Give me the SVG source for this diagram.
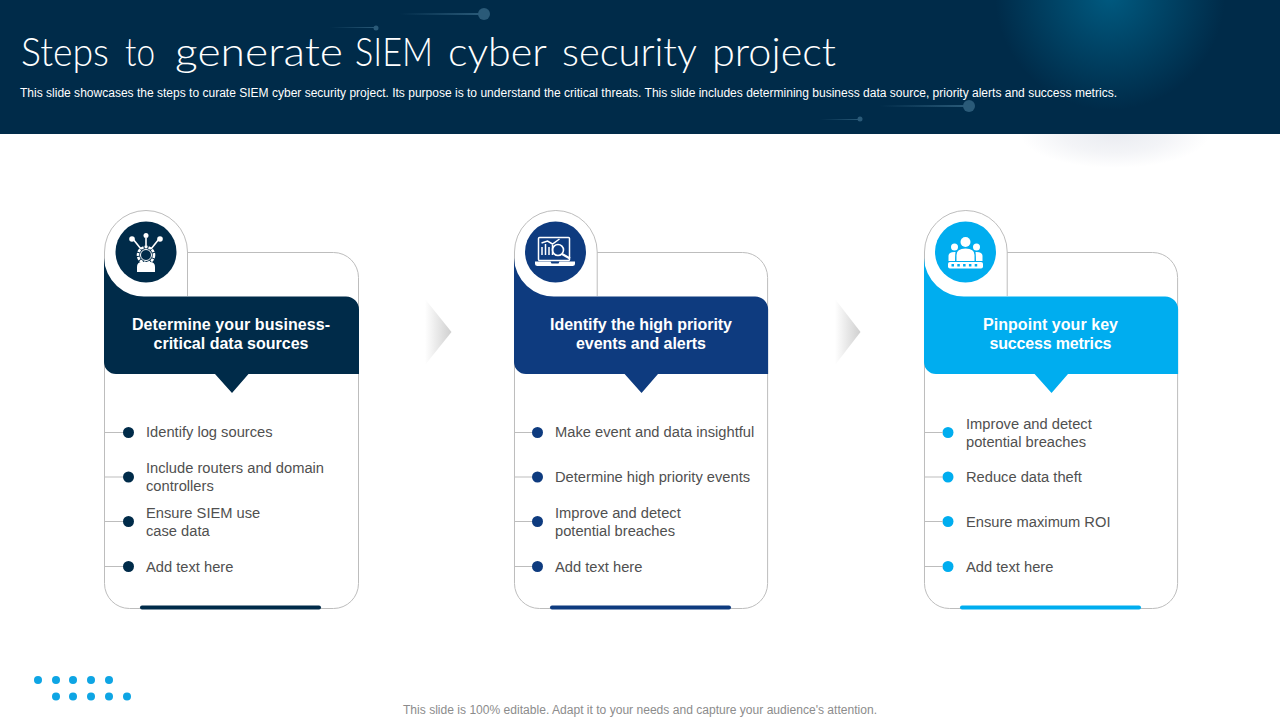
<svg xmlns="http://www.w3.org/2000/svg" xmlns:xlink="http://www.w3.org/1999/xlink" width="1280" height="720" viewBox="0 0 1280 720">
<style>
text{font-family:"Liberation Sans",Arial,sans-serif}
.title{font-family:"Lato","Liberation Sans",sans-serif;font-weight:300;font-size:40px;fill:#fff}
.sub{font-size:12px;fill:#fff}
.head{font-size:16px;font-weight:700;fill:#fff;text-anchor:middle}
.item{font-size:14.7px;fill:#505050}
.foot{font-size:12px;fill:#8c8c8c;text-anchor:middle}
.outline{fill:#fff;stroke:#bdbdbd;stroke-width:1}
.tick{stroke:#bdbdbd;stroke-width:1;fill:none}
.dot{fill:#0ea5e4}
.c1{fill:#002b49}.c2{fill:#0e3b7f}.c3{fill:#00adef}
.w{fill:#fff}.ws{stroke:#fff;fill:none}
</style>
<defs>
<radialGradient id="glow" cx="1110" cy="-5" r="115" gradientUnits="userSpaceOnUse"><stop offset="0" stop-color="#005a80"/><stop offset="1" stop-color="#005a80" stop-opacity="0"/></radialGradient>
<radialGradient id="shadow"><stop offset="0" stop-color="#eaecf1"/><stop offset=".55" stop-color="#f3f4f7"/><stop offset="1" stop-color="#fff"/></radialGradient>
<linearGradient id="chev" x1="0" x2="1" y1="0" y2="0"><stop offset="0" stop-color="#fff"/><stop offset="1" stop-color="#cfcfcf"/></linearGradient>
<linearGradient id="fade" x1="0" x2="1" y1="0" y2="0"><stop offset="0" stop-color="#2a5a78" stop-opacity="0"/><stop offset="1" stop-color="#2a5a78"/></linearGradient>
<path id="frame" class="outline" d="M187.500,252.500H333.500A25,25 0 0 1 358.500,277.500V583.500A25,25 0 0 1 333.500,608.500H129.500A25,25 0 0 1 104.500,583.500V252A41.500,41.500 0 0 1 187.500,252V296"/>
<path id="banner" d="M104,258A40,40 0 0 0 146,296.500H346A13,13 0 0 1 359,309.500V374H248.500L232,393L215,374H116A12,12 0 0 1 104,362Z"/>
</defs>
<rect id="background" width="1280" height="720" fill="#fff"/>
<g id="header">
<ellipse cx="1115" cy="134" rx="95" ry="34" fill="url(#shadow)"/>
<rect width="1280" height="134" fill="#002b49"/>
<rect x="960" width="300" height="134" fill="url(#glow)"/>
<rect x="400" y="13" width="80" height="2" fill="url(#fade)"/><circle cx="484" cy="14" r="6" fill="#2a5a78"/>
<rect x="330" y="27" width="46" height="1" fill="url(#fade)"/><circle cx="376" cy="28" r="2.500" fill="#2a5a78"/>
<rect x="880" y="105" width="86" height="2" fill="url(#fade)"/><circle cx="969" cy="106" r="6" fill="#2a5a78"/>
<rect x="820" y="119" width="40" height="1" fill="url(#fade)"/><circle cx="860" cy="119" r="2.500" fill="#2a5a78"/>
<text class="title" y="66"><tspan x="21" textLength="88" lengthAdjust="spacingAndGlyphs">Steps</tspan> <tspan x="125" textLength="30" lengthAdjust="spacingAndGlyphs">to</tspan> <tspan x="175" textLength="168" lengthAdjust="spacingAndGlyphs">generate</tspan> <tspan x="355" textLength="78" lengthAdjust="spacingAndGlyphs">SIEM</tspan> <tspan x="448" textLength="98" lengthAdjust="spacingAndGlyphs">cyber</tspan> <tspan x="562" textLength="134" lengthAdjust="spacingAndGlyphs">security</tspan> <tspan x="712" textLength="124" lengthAdjust="spacingAndGlyphs">project</tspan></text>
<text class="sub" x="20" y="97" textLength="1097" lengthAdjust="spacingAndGlyphs">This slide showcases the steps to curate SIEM cyber security project. Its purpose is to understand the critical threats. This slide includes determining business data source, priority alerts and success metrics.</text>
</g>
<g id="chevrons">
<polygon points="425,299 451.500,332 425,365" fill="url(#chev)"/>
<polygon points="835,299 860.500,332 835,365" fill="url(#chev)"/>
</g>
<g id="node-1">
<use xlink:href="#frame" href="#frame"/>
<use xlink:href="#banner" href="#banner" class="c1"/>
<circle class="c1" cx="146" cy="252" r="30.500"/>
<g id="icon-1">
<path class="ws" stroke-width="1.600" d="M146,238V247M133,239L141,249M159,239L151,249"/>
<circle class="w" cx="146" cy="235.500" r="2.500"/><circle class="w" cx="132" cy="239" r="2.800"/><circle class="w" cx="160" cy="239" r="2.800"/>
<circle class="ws" cx="146" cy="255" r="8" stroke-width="2.600" stroke-dasharray="3 1"/>
<circle cx="146" cy="255" r="5.500" fill="#002b49" stroke="#fff" stroke-width="1"/>
<path class="w" d="M137,272V267Q137,262 142,262H150Q155,262 155,267V272Z"/>
</g>
<text class="head" x="231" y="330" textLength="198">Determine your business-</text>
<text class="head" x="231" y="349" textLength="155">critical data sources</text>
<circle class="c1" cx="128.500" cy="432.500" r="5.500"/><circle class="c1" cx="128.500" cy="477" r="5.500"/><circle class="c1" cx="128.500" cy="521.500" r="5.500"/><circle class="c1" cx="128.500" cy="566.500" r="5.500"/>
<text class="item" x="146" y="437">Identify log sources</text>
<text class="item" x="146" y="473">Include routers and domain</text>
<text class="item" x="146" y="491">controllers</text>
<text class="item" x="146" y="518">Ensure SIEM use</text>
<text class="item" x="146" y="536">case data</text>
<text class="item" x="146" y="572">Add text here</text>
<rect class="c1" x="140" y="605.500" width="181" height="4" rx="2"/>
</g>
<g id="node-2" transform="translate(410 0)">
<use xlink:href="#frame" href="#frame" transform="translate(104 0) scale(.9965 1) translate(-104 0)"/>
<use xlink:href="#banner" href="#banner" class="c2" transform="translate(104 0) scale(.9965 1) translate(-104 0)"/>
<circle class="c2" cx="145.500" cy="252" r="30.500"/>
<g id="icon-2" transform="translate(-.5 0)">
<rect x="129" y="237.500" width="31" height="23" rx="1" fill="none" stroke="#fff" stroke-width="1.500"/>
<path class="w" d="M125.500,261.500H141L142,263.500H149L150,261.500H165.500V264Q165.500,266 163,266H128Q125.500,266 125.500,264Z"/>
<path class="ws" stroke-width="1.500" d="M132.500,255V247M136,255V244M139.500,255V247M143,255V245M132,243L138,241L143,244L150,239"/>
<circle class="ws" cx="148.500" cy="250" r="5.500" stroke-width="1.600"/>
<path class="ws" stroke-width="2.200" d="M152.500,254L160.500,258.500"/>
</g>
<text class="head" x="231" y="330" textLength="182">Identify the high priority</text>
<text class="head" x="231" y="349" textLength="130">events and alerts</text>
<circle class="c2" cx="127.500" cy="432.500" r="5.500"/><circle class="c2" cx="127.500" cy="477" r="5.500"/><circle class="c2" cx="127.500" cy="521.500" r="5.500"/><circle class="c2" cx="127.500" cy="566.500" r="5.500"/>
<text class="item" x="145" y="437">Make event and data insightful</text>
<text class="item" x="145" y="482">Determine high priority events</text>
<text class="item" x="145" y="518">Improve and detect</text>
<text class="item" x="145" y="536">potential breaches</text>
<text class="item" x="145" y="572">Add text here</text>
<rect class="c2" x="140" y="605.500" width="181" height="4" rx="2"/>
</g>
<g id="node-3" transform="translate(820 0)">
<use xlink:href="#frame" href="#frame" transform="translate(104 0) scale(.9965 1) translate(-104 0)"/>
<use xlink:href="#banner" href="#banner" class="c3" transform="translate(104 0) scale(.9965 1) translate(-104 0)"/>
<circle class="c3" cx="145.500" cy="252" r="30.500"/>
<g id="icon-3" transform="translate(-.5 0)">
<circle class="w" cx="146" cy="242" r="5"/><path class="w" d="M137,261V255Q137,248.500 146,248.500Q155,248.500 155,255V261Z"/>
<circle class="w" cx="135" cy="247" r="3.500"/><path class="w" d="M129,261V256Q129,252 135,252L136,252Q135.500,256 135.500,261Z"/>
<circle class="w" cx="157" cy="247" r="3.500"/><path class="w" d="M163,261V256Q163,252 157,252L156,252Q156.500,256 156.500,261Z"/>
<rect class="w" x="128.500" y="262" width="35" height="6.500" rx="2"/>
<path stroke="#00adef" stroke-width="2.500" stroke-dasharray="2.500 3.300" d="M132,265.300H161"/>
</g>
<text class="head" x="230.500" y="330" textLength="135">Pinpoint your key</text>
<text class="head" x="230.500" y="349" textLength="122">success metrics</text>
<circle class="c3" cx="128" cy="432.500" r="5.500"/><circle class="c3" cx="128" cy="477" r="5.500"/><circle class="c3" cx="128" cy="521.500" r="5.500"/><circle class="c3" cx="128" cy="566.500" r="5.500"/>
<text class="item" x="146" y="429">Improve and detect</text>
<text class="item" x="146" y="447">potential breaches</text>
<text class="item" x="146" y="482">Reduce data theft</text>
<text class="item" x="146" y="527">Ensure maximum ROI</text>
<text class="item" x="146" y="572">Add text here</text>
<rect class="c3" x="140" y="605.500" width="181" height="4" rx="2"/>
</g>
<g id="connectors">
<path class="tick" d="M105,432.500H123M105,477H123M105,521.500H123M105,566.500H123"/>
<path class="tick" d="M515,432.500H532M515,477H532M515,521.500H532M515,566.500H532"/>
<path class="tick" d="M925,432.500H943M925,477H943M925,521.500H943M925,566.500H943"/>
</g>
<g id="dots">
<circle class="dot" cx="38" cy="680" r="4"/><circle class="dot" cx="56" cy="680" r="4"/><circle class="dot" cx="73" cy="680" r="4"/><circle class="dot" cx="91" cy="680" r="4"/><circle class="dot" cx="109" cy="680" r="4"/>
<circle class="dot" cx="56" cy="696.500" r="4"/><circle class="dot" cx="73" cy="696.500" r="4"/><circle class="dot" cx="91" cy="696.500" r="4"/><circle class="dot" cx="109" cy="696.500" r="4"/><circle class="dot" cx="127" cy="696.500" r="4"/>
</g>
<text class="foot" x="640" y="714" textLength="474" lengthAdjust="spacingAndGlyphs">This slide is 100% editable. Adapt it to your needs and capture your audience's attention.</text>
</svg>
